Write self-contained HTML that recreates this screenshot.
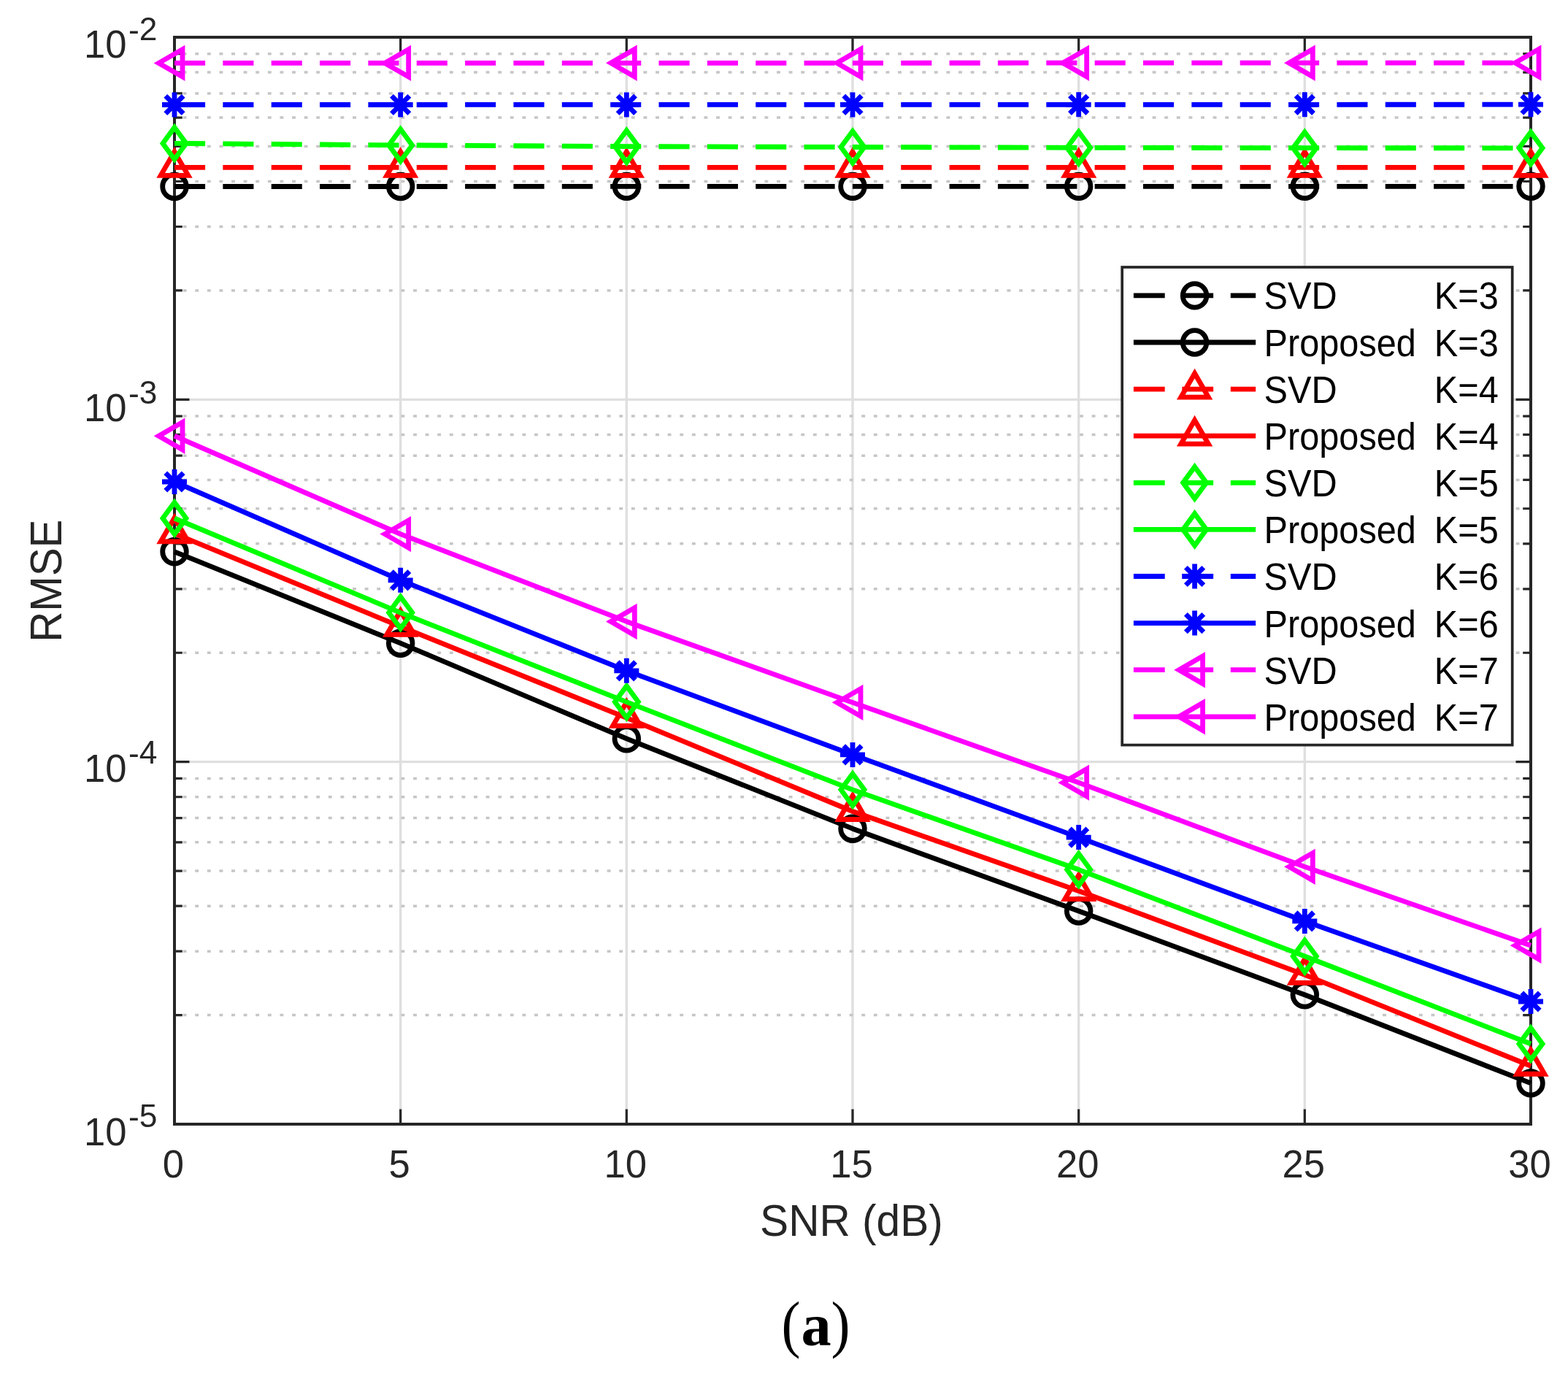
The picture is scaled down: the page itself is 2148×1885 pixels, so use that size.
<!DOCTYPE html>
<html><head><meta charset="utf-8"><title>RMSE vs SNR</title>
<style>html,body{margin:0;padding:0;background:#fff;}svg{display:block;}</style>
</head><body>
<svg width="2148" height="1885" viewBox="0 0 2148 1885">
<rect width="2148" height="1885" fill="#ffffff"/>
<path d="M548.67 51V1540M858.33 51V1540M1168 51V1540M1477.67 51V1540M1787.33 51V1540M239 547.33H2097M239 1043.67H2097" stroke="#dfdfdf" stroke-width="3.4" fill="none"/>
<path d="M239 397.92H2097M239 310.52H2097M239 248.51H2097M239 200.41H2097M239 161.11H2097M239 127.88H2097M239 99.1H2097M239 73.71H2097M239 894.26H2097M239 806.86H2097M239 744.84H2097M239 696.74H2097M239 657.44H2097M239 624.22H2097M239 595.43H2097M239 570.04H2097M239 1390.59H2097M239 1303.19H2097M239 1241.18H2097M239 1193.08H2097M239 1153.78H2097M239 1120.55H2097M239 1091.77H2097M239 1066.38H2097" stroke="#c6c6c6" stroke-width="3.5" stroke-dasharray="4.9 11.7" stroke-dashoffset="4.95" fill="none"/>
<rect x="239" y="51" width="1858" height="1489" fill="none" stroke="#262626" stroke-width="4.0"/>
<path d="M548.67 1540V1519.5M548.67 51V71.5M858.33 1540V1519.5M858.33 51V71.5M1168 1540V1519.5M1168 51V71.5M1477.67 1540V1519.5M1477.67 51V71.5M1787.33 1540V1519.5M1787.33 51V71.5M239 547.33H259.5M2097 547.33H2076.5M239 1043.67H259.5M2097 1043.67H2076.5" stroke="#262626" stroke-width="3.2" fill="none"/>
<path d="M239 397.92H249.8M2097 397.92H2086.2M239 310.52H249.8M2097 310.52H2086.2M239 248.51H249.8M2097 248.51H2086.2M239 200.41H249.8M2097 200.41H2086.2M239 161.11H249.8M2097 161.11H2086.2M239 127.88H249.8M2097 127.88H2086.2M239 99.1H249.8M2097 99.1H2086.2M239 73.71H249.8M2097 73.71H2086.2M239 894.26H249.8M2097 894.26H2086.2M239 806.86H249.8M2097 806.86H2086.2M239 744.84H249.8M2097 744.84H2086.2M239 696.74H249.8M2097 696.74H2086.2M239 657.44H249.8M2097 657.44H2086.2M239 624.22H249.8M2097 624.22H2086.2M239 595.43H249.8M2097 595.43H2086.2M239 570.04H249.8M2097 570.04H2086.2M239 1390.59H249.8M2097 1390.59H2086.2M239 1303.19H249.8M2097 1303.19H2086.2M239 1241.18H249.8M2097 1241.18H2086.2M239 1193.08H249.8M2097 1193.08H2086.2M239 1153.78H249.8M2097 1153.78H2086.2M239 1120.55H249.8M2097 1120.55H2086.2M239 1091.77H249.8M2097 1091.77H2086.2M239 1066.38H249.8M2097 1066.38H2086.2" stroke="#262626" stroke-width="3.2" fill="none"/>
<polyline points="239,255.5 548.67,255.5 858.33,255.4 1168,255.4 1477.67,255.4 1787.33,255.3 2097,255.3" fill="none" stroke="#000000" stroke-width="6.8" stroke-dasharray="42.1 24.25" stroke-linejoin="round"/>
<circle cx="239" cy="255.5" r="16.3" fill="none" stroke="#000000" stroke-width="6.8"/>
<circle cx="548.67" cy="255.5" r="16.3" fill="none" stroke="#000000" stroke-width="6.8"/>
<circle cx="858.33" cy="255.4" r="16.3" fill="none" stroke="#000000" stroke-width="6.8"/>
<circle cx="1168" cy="255.4" r="16.3" fill="none" stroke="#000000" stroke-width="6.8"/>
<circle cx="1477.67" cy="255.4" r="16.3" fill="none" stroke="#000000" stroke-width="6.8"/>
<circle cx="1787.33" cy="255.3" r="16.3" fill="none" stroke="#000000" stroke-width="6.8"/>
<circle cx="2097" cy="255.3" r="16.3" fill="none" stroke="#000000" stroke-width="6.8"/>
<polyline points="239,755.8 548.67,881.2 858.33,1011.9 1168,1135.2 1477.67,1248 1787.33,1362.8 2097,1483.9" fill="none" stroke="#000000" stroke-width="6.8" stroke-linejoin="round"/>
<circle cx="239" cy="755.8" r="16.3" fill="none" stroke="#000000" stroke-width="6.8"/>
<circle cx="548.67" cy="881.2" r="16.3" fill="none" stroke="#000000" stroke-width="6.8"/>
<circle cx="858.33" cy="1011.9" r="16.3" fill="none" stroke="#000000" stroke-width="6.8"/>
<circle cx="1168" cy="1135.2" r="16.3" fill="none" stroke="#000000" stroke-width="6.8"/>
<circle cx="1477.67" cy="1248" r="16.3" fill="none" stroke="#000000" stroke-width="6.8"/>
<circle cx="1787.33" cy="1362.8" r="16.3" fill="none" stroke="#000000" stroke-width="6.8"/>
<circle cx="2097" cy="1483.9" r="16.3" fill="none" stroke="#000000" stroke-width="6.8"/>
<polyline points="239,229.4 548.67,229.4 858.33,229.4 1168,229.4 1477.67,229.4 1787.33,229.4 2097,229.4" fill="none" stroke="#ff0000" stroke-width="6.8" stroke-dasharray="42.1 24.25" stroke-linejoin="round"/>
<path d="M239 207.84L257.8 240.4L220.2 240.4Z" fill="none" stroke="#ff0000" stroke-width="6.8" stroke-miterlimit="10"/>
<path d="M548.67 207.84L567.47 240.4L529.87 240.4Z" fill="none" stroke="#ff0000" stroke-width="6.8" stroke-miterlimit="10"/>
<path d="M858.33 207.84L877.13 240.4L839.53 240.4Z" fill="none" stroke="#ff0000" stroke-width="6.8" stroke-miterlimit="10"/>
<path d="M1168 207.84L1186.8 240.4L1149.2 240.4Z" fill="none" stroke="#ff0000" stroke-width="6.8" stroke-miterlimit="10"/>
<path d="M1477.67 207.84L1496.47 240.4L1458.87 240.4Z" fill="none" stroke="#ff0000" stroke-width="6.8" stroke-miterlimit="10"/>
<path d="M1787.33 207.84L1806.13 240.4L1768.53 240.4Z" fill="none" stroke="#ff0000" stroke-width="6.8" stroke-miterlimit="10"/>
<path d="M2097 207.84L2115.8 240.4L2078.2 240.4Z" fill="none" stroke="#ff0000" stroke-width="6.8" stroke-miterlimit="10"/>
<polyline points="239,730.95 548.67,858.35 858.33,983.35 1168,1111.5 1477.67,1220.55 1787.33,1335.35 2097,1460.25" fill="none" stroke="#ff0000" stroke-width="6.8" stroke-linejoin="round"/>
<path d="M239 709.39L257.8 741.95L220.2 741.95Z" fill="none" stroke="#ff0000" stroke-width="6.8" stroke-miterlimit="10"/>
<path d="M548.67 836.79L567.47 869.35L529.87 869.35Z" fill="none" stroke="#ff0000" stroke-width="6.8" stroke-miterlimit="10"/>
<path d="M858.33 961.79L877.13 994.35L839.53 994.35Z" fill="none" stroke="#ff0000" stroke-width="6.8" stroke-miterlimit="10"/>
<path d="M1168 1089.94L1186.8 1122.5L1149.2 1122.5Z" fill="none" stroke="#ff0000" stroke-width="6.8" stroke-miterlimit="10"/>
<path d="M1477.67 1198.99L1496.47 1231.55L1458.87 1231.55Z" fill="none" stroke="#ff0000" stroke-width="6.8" stroke-miterlimit="10"/>
<path d="M1787.33 1313.79L1806.13 1346.35L1768.53 1346.35Z" fill="none" stroke="#ff0000" stroke-width="6.8" stroke-miterlimit="10"/>
<path d="M2097 1438.69L2115.8 1471.25L2078.2 1471.25Z" fill="none" stroke="#ff0000" stroke-width="6.8" stroke-miterlimit="10"/>
<polyline points="239,196.4 548.67,198.9 858.33,200.6 1168,201.5 1477.67,202.3 1787.33,202.7 2097,202.8" fill="none" stroke="#00ff00" stroke-width="6.8" stroke-dasharray="42.1 24.25" stroke-linejoin="round"/>
<path d="M239 174.6L255 196.4L239 218.2L223 196.4Z" fill="none" stroke="#00ff00" stroke-width="6.8" stroke-miterlimit="10"/>
<path d="M548.67 177.1L564.67 198.9L548.67 220.7L532.67 198.9Z" fill="none" stroke="#00ff00" stroke-width="6.8" stroke-miterlimit="10"/>
<path d="M858.33 178.8L874.33 200.6L858.33 222.4L842.33 200.6Z" fill="none" stroke="#00ff00" stroke-width="6.8" stroke-miterlimit="10"/>
<path d="M1168 179.7L1184 201.5L1168 223.3L1152 201.5Z" fill="none" stroke="#00ff00" stroke-width="6.8" stroke-miterlimit="10"/>
<path d="M1477.67 180.5L1493.67 202.3L1477.67 224.1L1461.67 202.3Z" fill="none" stroke="#00ff00" stroke-width="6.8" stroke-miterlimit="10"/>
<path d="M1787.33 180.9L1803.33 202.7L1787.33 224.5L1771.33 202.7Z" fill="none" stroke="#00ff00" stroke-width="6.8" stroke-miterlimit="10"/>
<path d="M2097 181L2113 202.8L2097 224.6L2081 202.8Z" fill="none" stroke="#00ff00" stroke-width="6.8" stroke-miterlimit="10"/>
<polyline points="239,710 548.67,839.3 858.33,961.55 1168,1081.85 1477.67,1191.3 1787.33,1310 2097,1430" fill="none" stroke="#00ff00" stroke-width="6.8" stroke-linejoin="round"/>
<path d="M239 688.2L255 710L239 731.8L223 710Z" fill="none" stroke="#00ff00" stroke-width="6.8" stroke-miterlimit="10"/>
<path d="M548.67 817.5L564.67 839.3L548.67 861.1L532.67 839.3Z" fill="none" stroke="#00ff00" stroke-width="6.8" stroke-miterlimit="10"/>
<path d="M858.33 939.75L874.33 961.55L858.33 983.35L842.33 961.55Z" fill="none" stroke="#00ff00" stroke-width="6.8" stroke-miterlimit="10"/>
<path d="M1168 1060.05L1184 1081.85L1168 1103.65L1152 1081.85Z" fill="none" stroke="#00ff00" stroke-width="6.8" stroke-miterlimit="10"/>
<path d="M1477.67 1169.5L1493.67 1191.3L1477.67 1213.1L1461.67 1191.3Z" fill="none" stroke="#00ff00" stroke-width="6.8" stroke-miterlimit="10"/>
<path d="M1787.33 1288.2L1803.33 1310L1787.33 1331.8L1771.33 1310Z" fill="none" stroke="#00ff00" stroke-width="6.8" stroke-miterlimit="10"/>
<path d="M2097 1408.2L2113 1430L2097 1451.8L2081 1430Z" fill="none" stroke="#00ff00" stroke-width="6.8" stroke-miterlimit="10"/>
<polyline points="239,143.5 548.67,143.5 858.33,143.4 1168,143.4 1477.67,143.3 1787.33,143.3 2097,143.2" fill="none" stroke="#0000ff" stroke-width="6.8" stroke-dasharray="42.1 24.25" stroke-linejoin="round"/>
<path d="M222 143.5H256M239 126.5V160.5M226.8 131.3L251.2 155.7M226.8 155.7L251.2 131.3" fill="none" stroke="#0000ff" stroke-width="6.8" stroke-linecap="butt"/>
<path d="M531.67 143.5H565.67M548.67 126.5V160.5M536.47 131.3L560.87 155.7M536.47 155.7L560.87 131.3" fill="none" stroke="#0000ff" stroke-width="6.8" stroke-linecap="butt"/>
<path d="M841.33 143.4H875.33M858.33 126.4V160.4M846.13 131.2L870.53 155.6M846.13 155.6L870.53 131.2" fill="none" stroke="#0000ff" stroke-width="6.8" stroke-linecap="butt"/>
<path d="M1151 143.4H1185M1168 126.4V160.4M1155.8 131.2L1180.2 155.6M1155.8 155.6L1180.2 131.2" fill="none" stroke="#0000ff" stroke-width="6.8" stroke-linecap="butt"/>
<path d="M1460.67 143.3H1494.67M1477.67 126.3V160.3M1465.47 131.1L1489.87 155.5M1465.47 155.5L1489.87 131.1" fill="none" stroke="#0000ff" stroke-width="6.8" stroke-linecap="butt"/>
<path d="M1770.33 143.3H1804.33M1787.33 126.3V160.3M1775.13 131.1L1799.53 155.5M1775.13 155.5L1799.53 131.1" fill="none" stroke="#0000ff" stroke-width="6.8" stroke-linecap="butt"/>
<path d="M2080 143.2H2114M2097 126.2V160.2M2084.8 131L2109.2 155.4M2084.8 155.4L2109.2 131" fill="none" stroke="#0000ff" stroke-width="6.8" stroke-linecap="butt"/>
<polyline points="239,660 548.67,794.85 858.33,918.85 1168,1033.9 1477.67,1147.1 1787.33,1261.95 2097,1372" fill="none" stroke="#0000ff" stroke-width="6.8" stroke-linejoin="round"/>
<path d="M222 660H256M239 643V677M226.8 647.8L251.2 672.2M226.8 672.2L251.2 647.8" fill="none" stroke="#0000ff" stroke-width="6.8" stroke-linecap="butt"/>
<path d="M531.67 794.85H565.67M548.67 777.85V811.85M536.47 782.65L560.87 807.05M536.47 807.05L560.87 782.65" fill="none" stroke="#0000ff" stroke-width="6.8" stroke-linecap="butt"/>
<path d="M841.33 918.85H875.33M858.33 901.85V935.85M846.13 906.65L870.53 931.05M846.13 931.05L870.53 906.65" fill="none" stroke="#0000ff" stroke-width="6.8" stroke-linecap="butt"/>
<path d="M1151 1033.9H1185M1168 1016.9V1050.9M1155.8 1021.7L1180.2 1046.1M1155.8 1046.1L1180.2 1021.7" fill="none" stroke="#0000ff" stroke-width="6.8" stroke-linecap="butt"/>
<path d="M1460.67 1147.1H1494.67M1477.67 1130.1V1164.1M1465.47 1134.9L1489.87 1159.3M1465.47 1159.3L1489.87 1134.9" fill="none" stroke="#0000ff" stroke-width="6.8" stroke-linecap="butt"/>
<path d="M1770.33 1261.95H1804.33M1787.33 1244.95V1278.95M1775.13 1249.75L1799.53 1274.15M1775.13 1274.15L1799.53 1249.75" fill="none" stroke="#0000ff" stroke-width="6.8" stroke-linecap="butt"/>
<path d="M2080 1372H2114M2097 1355V1389M2084.8 1359.8L2109.2 1384.2M2084.8 1384.2L2109.2 1359.8" fill="none" stroke="#0000ff" stroke-width="6.8" stroke-linecap="butt"/>
<polyline points="239,86.4 548.67,86.4 858.33,86.3 1168,86.3 1477.67,86.2 1787.33,86.2 2097,86.1" fill="none" stroke="#ff00ff" stroke-width="6.8" stroke-dasharray="42.1 24.25" stroke-linejoin="round"/>
<path d="M217.44 86.4L250 67.6L250 105.2Z" fill="none" stroke="#ff00ff" stroke-width="6.8" stroke-miterlimit="10"/>
<path d="M527.11 86.4L559.67 67.6L559.67 105.2Z" fill="none" stroke="#ff00ff" stroke-width="6.8" stroke-miterlimit="10"/>
<path d="M836.77 86.3L869.33 67.5L869.33 105.1Z" fill="none" stroke="#ff00ff" stroke-width="6.8" stroke-miterlimit="10"/>
<path d="M1146.44 86.3L1179 67.5L1179 105.1Z" fill="none" stroke="#ff00ff" stroke-width="6.8" stroke-miterlimit="10"/>
<path d="M1456.11 86.2L1488.67 67.4L1488.67 105Z" fill="none" stroke="#ff00ff" stroke-width="6.8" stroke-miterlimit="10"/>
<path d="M1765.77 86.2L1798.33 67.4L1798.33 105Z" fill="none" stroke="#ff00ff" stroke-width="6.8" stroke-miterlimit="10"/>
<path d="M2075.44 86.1L2108 67.3L2108 104.9Z" fill="none" stroke="#ff00ff" stroke-width="6.8" stroke-miterlimit="10"/>
<polyline points="239,597.2 548.67,731.6 858.33,851.45 1168,962.35 1477.67,1072.15 1787.33,1187.35 2097,1295.2" fill="none" stroke="#ff00ff" stroke-width="6.8" stroke-linejoin="round"/>
<path d="M217.44 597.2L250 578.4L250 616Z" fill="none" stroke="#ff00ff" stroke-width="6.8" stroke-miterlimit="10"/>
<path d="M527.11 731.6L559.67 712.8L559.67 750.4Z" fill="none" stroke="#ff00ff" stroke-width="6.8" stroke-miterlimit="10"/>
<path d="M836.77 851.45L869.33 832.65L869.33 870.25Z" fill="none" stroke="#ff00ff" stroke-width="6.8" stroke-miterlimit="10"/>
<path d="M1146.44 962.35L1179 943.55L1179 981.15Z" fill="none" stroke="#ff00ff" stroke-width="6.8" stroke-miterlimit="10"/>
<path d="M1456.11 1072.15L1488.67 1053.35L1488.67 1090.95Z" fill="none" stroke="#ff00ff" stroke-width="6.8" stroke-miterlimit="10"/>
<path d="M1765.77 1187.35L1798.33 1168.55L1798.33 1206.15Z" fill="none" stroke="#ff00ff" stroke-width="6.8" stroke-miterlimit="10"/>
<path d="M2075.44 1295.2L2108 1276.4L2108 1314Z" fill="none" stroke="#ff00ff" stroke-width="6.8" stroke-miterlimit="10"/>
<text transform="translate(237.5 1613.1) scale(1 1.01)" text-anchor="middle" font-family="Liberation Sans, Arial, sans-serif" font-size="52.6" fill="#262626">0</text>
<text transform="translate(547.17 1613.1) scale(1 1.01)" text-anchor="middle" font-family="Liberation Sans, Arial, sans-serif" font-size="52.6" fill="#262626">5</text>
<text transform="translate(856.83 1613.1) scale(1 1.01)" text-anchor="middle" font-family="Liberation Sans, Arial, sans-serif" font-size="52.6" fill="#262626">10</text>
<text transform="translate(1166.5 1613.1) scale(1 1.01)" text-anchor="middle" font-family="Liberation Sans, Arial, sans-serif" font-size="52.6" fill="#262626">15</text>
<text transform="translate(1476.17 1613.1) scale(1 1.01)" text-anchor="middle" font-family="Liberation Sans, Arial, sans-serif" font-size="52.6" fill="#262626">20</text>
<text transform="translate(1785.83 1613.1) scale(1 1.01)" text-anchor="middle" font-family="Liberation Sans, Arial, sans-serif" font-size="52.6" fill="#262626">25</text>
<text transform="translate(2095.5 1613.1) scale(1 1.01)" text-anchor="middle" font-family="Liberation Sans, Arial, sans-serif" font-size="52.6" fill="#262626">30</text>
<text transform="translate(114.9 79.4) scale(1 1.01)" font-family="Liberation Sans, Arial, sans-serif" font-size="52.6" fill="#262626">10</text>
<text transform="translate(176.1 54.8) scale(1 1.01)" font-family="Liberation Sans, Arial, sans-serif" font-size="44.3" fill="#262626"><tspan dy="1.3">-</tspan><tspan dy="-1.3">2</tspan></text>
<text transform="translate(114.9 576.63) scale(1 1.01)" font-family="Liberation Sans, Arial, sans-serif" font-size="52.6" fill="#262626">10</text>
<text transform="translate(176.1 552.63) scale(1 1.01)" font-family="Liberation Sans, Arial, sans-serif" font-size="44.3" fill="#262626"><tspan dy="1.6">-</tspan><tspan dy="-1.6">3</tspan></text>
<text transform="translate(114.9 1070.67) scale(1 1.01)" font-family="Liberation Sans, Arial, sans-serif" font-size="52.6" fill="#262626">10</text>
<text transform="translate(176.1 1045.77) scale(1 1.01)" font-family="Liberation Sans, Arial, sans-serif" font-size="44.3" fill="#262626"><tspan dy="1.35">-</tspan><tspan dy="-1.35">4</tspan></text>
<text transform="translate(114.9 1568.7) scale(1 1.01)" font-family="Liberation Sans, Arial, sans-serif" font-size="52.6" fill="#262626">10</text>
<text transform="translate(176.1 1543.8) scale(1 1.01)" font-family="Liberation Sans, Arial, sans-serif" font-size="44.3" fill="#262626"><tspan dy="1.4">-</tspan><tspan dy="-1.4">5</tspan></text>
<text transform="translate(1166.4 1693.3) scale(1 1.04)" text-anchor="middle" font-family="Liberation Sans, Arial, sans-serif" font-size="58.6" fill="#262626">SNR (dB)</text>
<text transform="translate(84 795.7) rotate(-90) scale(0.994 1.04)" text-anchor="middle" font-family="Liberation Sans, Arial, sans-serif" font-size="58.6" fill="#262626">RMSE</text>
<rect x="1537.2" y="366" width="534.5" height="654.6" fill="#ffffff" stroke="#262626" stroke-width="3.7"/>
<path d="M1552.9 404.9H1720.2" stroke="#000000" stroke-width="6.8" fill="none" stroke-dasharray="42.8 23.65"/>
<circle cx="1636.6" cy="404.9" r="16.3" fill="none" stroke="#000000" stroke-width="6.8"/>
<text transform="translate(1731.5 423.4) scale(1 1.05)" font-family="Liberation Sans, Arial, sans-serif" font-size="48.7" fill="#000">SVD</text>
<text transform="translate(1964.8 423.4) scale(1 1.05)" font-family="Liberation Sans, Arial, sans-serif" font-size="48.7" fill="#000">K=3</text>
<path d="M1552.9 469H1720.2" stroke="#000000" stroke-width="6.8" fill="none"/>
<circle cx="1636.6" cy="469" r="16.3" fill="none" stroke="#000000" stroke-width="6.8"/>
<text transform="translate(1731.5 487.57) scale(1 1.05)" font-family="Liberation Sans, Arial, sans-serif" font-size="48.7" fill="#000">Proposed</text>
<text transform="translate(1964.8 487.57) scale(1 1.05)" font-family="Liberation Sans, Arial, sans-serif" font-size="48.7" fill="#000">K=3</text>
<path d="M1552.9 533.1H1720.2" stroke="#ff0000" stroke-width="6.8" fill="none" stroke-dasharray="42.8 23.65"/>
<path d="M1636.6 511.54L1655.4 544.1L1617.8 544.1Z" fill="none" stroke="#ff0000" stroke-width="6.8" stroke-miterlimit="10"/>
<text transform="translate(1731.5 551.74) scale(1 1.05)" font-family="Liberation Sans, Arial, sans-serif" font-size="48.7" fill="#000">SVD</text>
<text transform="translate(1964.8 551.74) scale(1 1.05)" font-family="Liberation Sans, Arial, sans-serif" font-size="48.7" fill="#000">K=4</text>
<path d="M1552.9 597.2H1720.2" stroke="#ff0000" stroke-width="6.8" fill="none"/>
<path d="M1636.6 575.64L1655.4 608.2L1617.8 608.2Z" fill="none" stroke="#ff0000" stroke-width="6.8" stroke-miterlimit="10"/>
<text transform="translate(1731.5 615.91) scale(1 1.05)" font-family="Liberation Sans, Arial, sans-serif" font-size="48.7" fill="#000">Proposed</text>
<text transform="translate(1964.8 615.91) scale(1 1.05)" font-family="Liberation Sans, Arial, sans-serif" font-size="48.7" fill="#000">K=4</text>
<path d="M1552.9 661.3H1720.2" stroke="#00ff00" stroke-width="6.8" fill="none" stroke-dasharray="42.8 23.65"/>
<path d="M1636.6 639.5L1652.6 661.3L1636.6 683.1L1620.6 661.3Z" fill="none" stroke="#00ff00" stroke-width="6.8" stroke-miterlimit="10"/>
<text transform="translate(1731.5 680.08) scale(1 1.05)" font-family="Liberation Sans, Arial, sans-serif" font-size="48.7" fill="#000">SVD</text>
<text transform="translate(1964.8 680.08) scale(1 1.05)" font-family="Liberation Sans, Arial, sans-serif" font-size="48.7" fill="#000">K=5</text>
<path d="M1552.9 725.4H1720.2" stroke="#00ff00" stroke-width="6.8" fill="none"/>
<path d="M1636.6 703.6L1652.6 725.4L1636.6 747.2L1620.6 725.4Z" fill="none" stroke="#00ff00" stroke-width="6.8" stroke-miterlimit="10"/>
<text transform="translate(1731.5 744.25) scale(1 1.05)" font-family="Liberation Sans, Arial, sans-serif" font-size="48.7" fill="#000">Proposed</text>
<text transform="translate(1964.8 744.25) scale(1 1.05)" font-family="Liberation Sans, Arial, sans-serif" font-size="48.7" fill="#000">K=5</text>
<path d="M1552.9 789.5H1720.2" stroke="#0000ff" stroke-width="6.8" fill="none" stroke-dasharray="42.8 23.65"/>
<path d="M1619.6 789.5H1653.6M1636.6 772.5V806.5M1624.4 777.3L1648.8 801.7M1624.4 801.7L1648.8 777.3" fill="none" stroke="#0000ff" stroke-width="6.8" stroke-linecap="butt"/>
<text transform="translate(1731.5 808.42) scale(1 1.05)" font-family="Liberation Sans, Arial, sans-serif" font-size="48.7" fill="#000">SVD</text>
<text transform="translate(1964.8 808.42) scale(1 1.05)" font-family="Liberation Sans, Arial, sans-serif" font-size="48.7" fill="#000">K=6</text>
<path d="M1552.9 853.6H1720.2" stroke="#0000ff" stroke-width="6.8" fill="none"/>
<path d="M1619.6 853.6H1653.6M1636.6 836.6V870.6M1624.4 841.4L1648.8 865.8M1624.4 865.8L1648.8 841.4" fill="none" stroke="#0000ff" stroke-width="6.8" stroke-linecap="butt"/>
<text transform="translate(1731.5 872.59) scale(1 1.05)" font-family="Liberation Sans, Arial, sans-serif" font-size="48.7" fill="#000">Proposed</text>
<text transform="translate(1964.8 872.59) scale(1 1.05)" font-family="Liberation Sans, Arial, sans-serif" font-size="48.7" fill="#000">K=6</text>
<path d="M1552.9 917.7H1720.2" stroke="#ff00ff" stroke-width="6.8" fill="none" stroke-dasharray="42.8 23.65"/>
<path d="M1615.04 917.7L1647.6 898.9L1647.6 936.5Z" fill="none" stroke="#ff00ff" stroke-width="6.8" stroke-miterlimit="10"/>
<text transform="translate(1731.5 936.76) scale(1 1.05)" font-family="Liberation Sans, Arial, sans-serif" font-size="48.7" fill="#000">SVD</text>
<text transform="translate(1964.8 936.76) scale(1 1.05)" font-family="Liberation Sans, Arial, sans-serif" font-size="48.7" fill="#000">K=7</text>
<path d="M1552.9 981.8H1720.2" stroke="#ff00ff" stroke-width="6.8" fill="none"/>
<path d="M1615.04 981.8L1647.6 963L1647.6 1000.6Z" fill="none" stroke="#ff00ff" stroke-width="6.8" stroke-miterlimit="10"/>
<text transform="translate(1731.5 1000.93) scale(1 1.05)" font-family="Liberation Sans, Arial, sans-serif" font-size="48.7" fill="#000">Proposed</text>
<text transform="translate(1964.8 1000.93) scale(1 1.05)" font-family="Liberation Sans, Arial, sans-serif" font-size="48.7" fill="#000">K=7</text>
<text transform="translate(1070.6 1842.8) scale(0.9 1)" font-family="Liberation Serif, Times New Roman, serif" font-size="86.8" fill="#000">(</text>
<text x="1097.4" y="1843.0" font-family="Liberation Serif, Times New Roman, serif" font-weight="bold" font-size="82.3" fill="#000">a</text>
<text transform="translate(1138.5 1842.8) scale(0.9 1)" font-family="Liberation Serif, Times New Roman, serif" font-size="86.8" fill="#000">)</text>
</svg>
</body></html>
